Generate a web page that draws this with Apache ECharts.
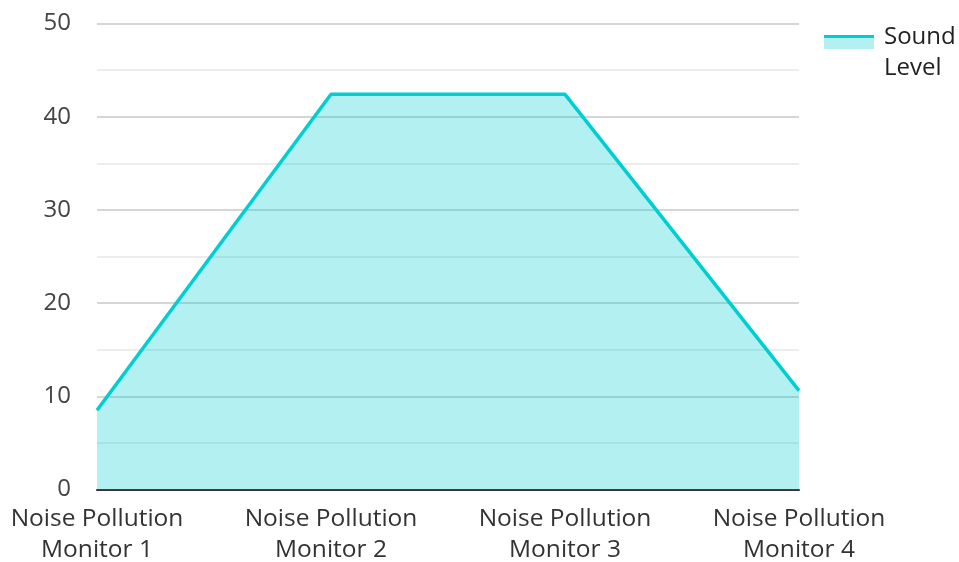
<!DOCTYPE html>
<html>
<head>
<meta charset="utf-8">
<script src="https://cdn.jsdelivr.net/npm/echarts@6/dist/echarts.min.js"></script>
<style>
html,body{margin:0;padding:0;background:#fff;}
#chart{width:959px;height:562px;}
</style>
</head>
<body>
<div id="chart"></div>
<script>
const categories = ["Noise Pollution Monitor 1", "Noise Pollution Monitor 2", "Noise Pollution Monitor 3", "Noise Pollution Monitor 4"];
const soundLevel = [8.5, 42.4, 42.4, 10.6];
const seriesName = "Sound Level";
const yTicks = [0, 10, 20, 30, 40, 50];

const chart = echarts.init(document.getElementById('chart'));
const font = "'Open Sans', 'Noto Sans', sans-serif";
chart.setOption({
  animation: false,
  textStyle: { fontFamily: font },
  grid: { left: 97, right: 160, top: 23.5, bottom: 72.5, containLabel: false, outerBoundsMode: 'none' },
  legend: {
    data: [seriesName],
    left: 824,
    top: 0,
    padding: 0,
    itemWidth: 50,
    itemHeight: 14,
    itemGap: 0,
    icon: 'rect',
    formatter: function (n) { return '{s| }\n' + n.replace(' ', '\n'); },
    textStyle: {
      fontFamily: font, fontSize: 24, color: '#222', lineHeight: 31,
      padding: [0, 0, 0, 5],
      rich: { s: { fontSize: 10, lineHeight: 22 } }
    },
    itemStyle: {
      color: new echarts.graphic.LinearGradient(0, 0, 0, 1, [
        { offset: 0, color: '#00CED1' },
        { offset: 0.25, color: '#00CED1' },
        { offset: 0.25, color: '#b3f0f1' },
        { offset: 1, color: '#b3f0f1' }
      ])
    }
  },
  xAxis: {
    type: 'category',
    data: categories,
    boundaryGap: false,
    axisLine: { lineStyle: { color: '#333', width: 2 } },
    axisTick: { show: false },
    axisLabel: {
      fontFamily: font, fontSize: 24.5, color: '#333', lineHeight: 31, margin: 14,
      interval: 0,
      formatter: function (v) { return v.replace(' Monitor', '\nMonitor'); }
    },
    splitLine: { show: false }
  },
  yAxis: {
    type: 'value',
    min: yTicks[0],
    max: yTicks[yTicks.length - 1],
    interval: 10,
    axisLine: { show: false },
    axisTick: { show: false },
    axisLabel: { fontFamily: font, fontSize: 24, color: '#444', margin: 26 },
    splitLine: { lineStyle: { color: '#c8c8c8', width: 1.5 } },
    minorTick: { show: false, splitNumber: 2 },
    minorSplitLine: { show: true, lineStyle: { color: '#e8e8e8', width: 1.5 } }
  },
  series: [{
    name: seriesName,
    type: 'line',
    data: soundLevel,
    symbol: 'none',
    lineStyle: { color: '#00CED1', width: 3.5 },
    itemStyle: { color: '#00CED1' },
    areaStyle: { color: '#00CED1', opacity: 0.3 }
  }]
});
</script>
</body>
</html>
